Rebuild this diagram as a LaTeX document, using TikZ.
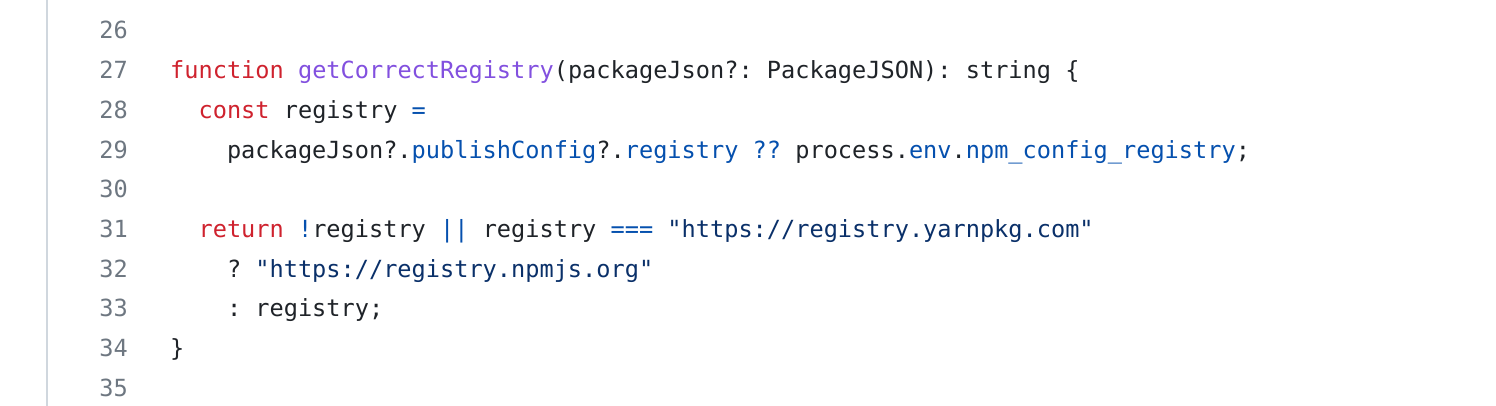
\documentclass[tikz,border=0pt]{standalone}
\usepackage{fontspec}
\setmonofont{DejaVu Sans Mono}
\definecolor{kw}{HTML}{CF222E}
\definecolor{fn}{HTML}{8250DF}
\definecolor{pr}{HTML}{0550AE}
\definecolor{st}{HTML}{0A3069}
\definecolor{tx}{HTML}{1F2328}
\definecolor{ln}{HTML}{6E7781}
\definecolor{bar}{HTML}{D0D7DE}
\newcommand{\ckw}[1]{\textcolor{kw}{#1}}
\newcommand{\cfn}[1]{\textcolor{fn}{#1}}
\newcommand{\cpr}[1]{\textcolor{pr}{#1}}
\newcommand{\cst}[1]{\textcolor{st}{#1}}
\begin{document}
\begin{tikzpicture}[x=1pt,y=-1pt,
  codeline/.style={anchor=base west,inner sep=0pt,font=\ttfamily\fontsize{23.6}{28}\selectfont,text=tx},
  numline/.style={anchor=base east,inner sep=0pt,font=\ttfamily\fontsize{23.6}{28}\selectfont,text=ln}]
\useasboundingbox[fill=white] (0,0) rectangle (1496,406);
\draw[bar,line width=2pt] (47,0) coordinate (bt) -- (47,406) coordinate (bb);
\foreach \n [count=\i from 0] in {26,...,35}
  \node[numline] (n\n) at (128,{39+\i*39.7}) {\n};
\node[codeline] (c27) at (170,{39+1*39.7}) {\ckw{function} \cfn{getCorrectRegistry}(packageJson?: PackageJSON): string \{};
\node[codeline] (c28) at (198.4,{39+2*39.7}) {\ckw{const} registry \cpr{=}};
\node[codeline] (c29) at (226.8,{39+3*39.7}) {packageJson?.\cpr{publishConfig}?.\cpr{registry} \cpr{??} process.\cpr{env}.\cpr{npm\_config\_registry};};
\node[codeline] (c31) at (198.4,{39+5*39.7}) {\ckw{return} \cpr{!}registry \cpr{||} registry \cpr{===} \cst{"https://registry.yarnpkg.com"}};
\node[codeline] (c32) at (226.8,{39+6*39.7}) {? \cst{"https://registry.npmjs.org"}};
\node[codeline] (c33) at (226.8,{39+7*39.7}) {: registry;};
\node[codeline] (c34) at (170,{39+8*39.7}) {\}};
\end{tikzpicture}
\end{document}
